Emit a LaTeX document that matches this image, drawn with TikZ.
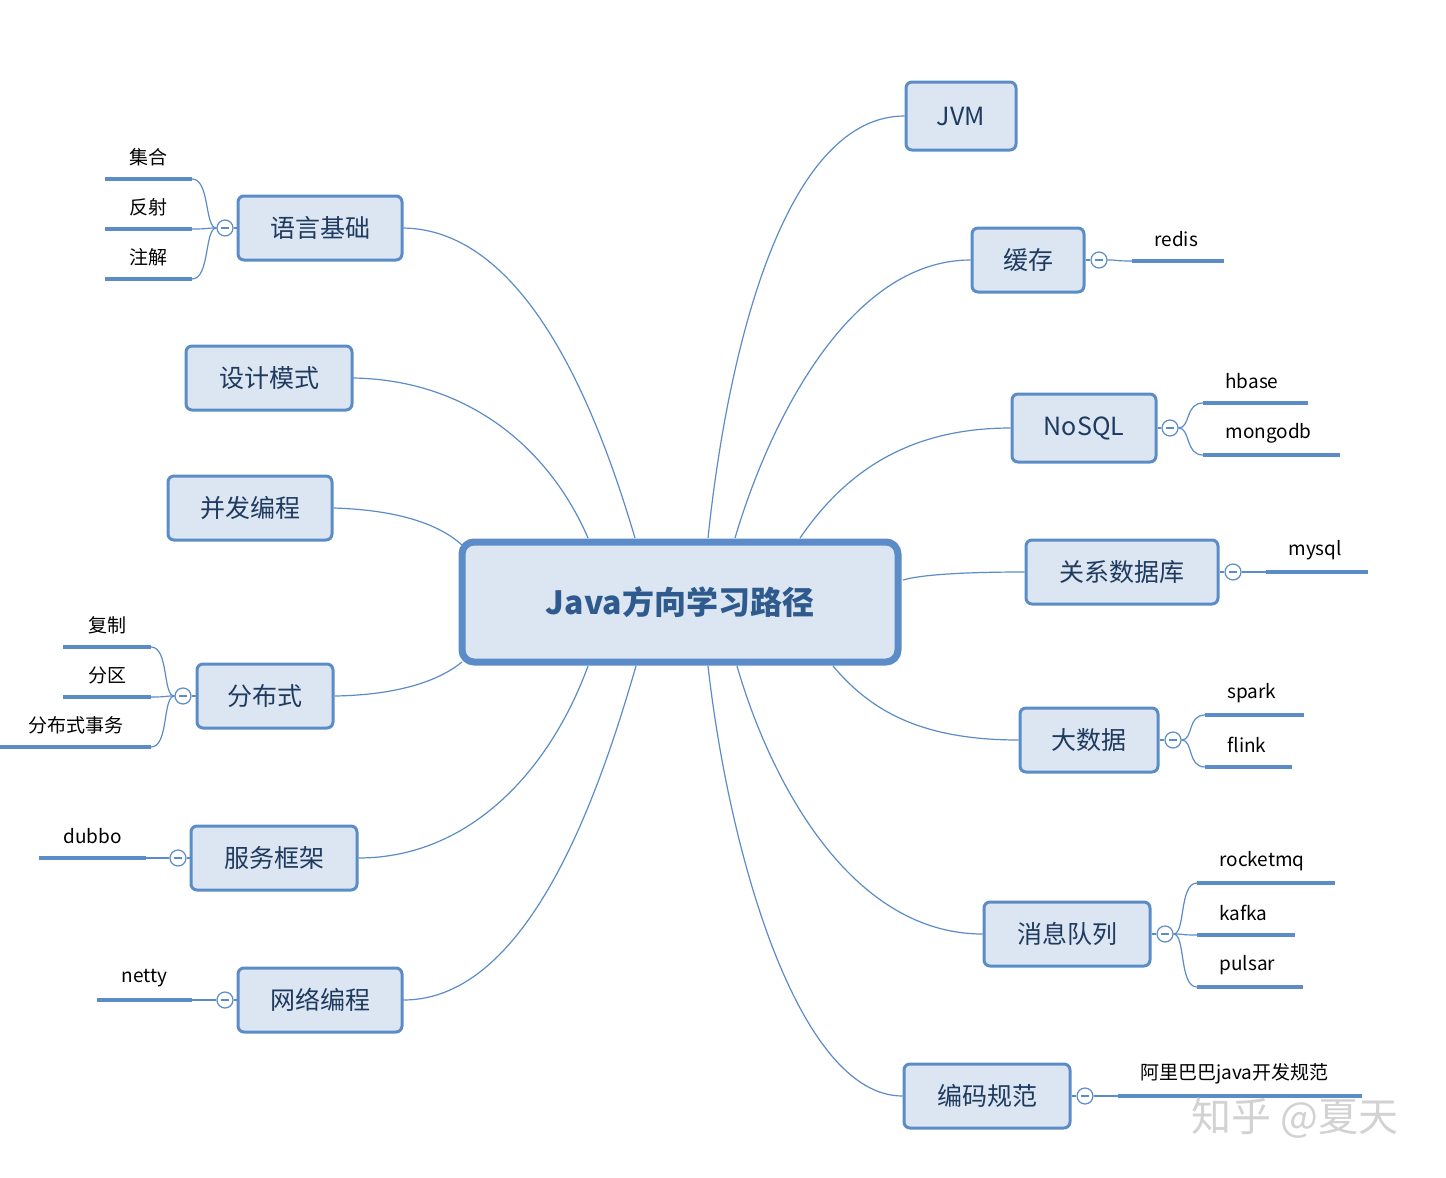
\documentclass[tikz,border=0pt]{standalone}
\usepackage{fontspec}
\setmainfont{Noto Sans CJK SC}
\begin{document}
\begin{tikzpicture}[x=0.5pt,y=-0.5pt,
  topic/.style={draw=c1,fill=c2,line width=1.5pt,rounded corners=3pt,text=c3,font=\fontsize{12.5}{14}\selectfont,inner sep=0pt},
  conn/.style={draw=c1,line width=0.6pt},
  uline/.style={draw=c1,line width=2pt},
  sub/.style={font=\fontsize{9.5}{11}\selectfont,text=black,inner sep=0pt},
  col/.style={circle,draw=c1,fill=white,line width=0.6pt,minimum size=8pt,inner sep=0pt,path picture={\draw[c1,line width=0.6pt] ([xshift=-2pt]path picture bounding box.center)--([xshift=2pt]path picture bounding box.center);}}]
\definecolor{c1}{HTML}{5B8CC8}
\definecolor{c2}{HTML}{DCE6F2}
\definecolor{c3}{HTML}{1F3A5F}
\definecolor{c4}{HTML}{2F5A8E}
\fill[white] (0,0) rectangle (1446,1178);
\useasboundingbox (0,0) rectangle (1446,1178);
% central
\node[topic,line width=3.5pt,rounded corners=6pt,minimum width=218pt,minimum height=60pt,text=c4,font=\fontsize{16}{18}\selectfont\bfseries] (C) at (680,602) {Java方向学习路径};
% left topics
\node[topic,minimum width=82pt,minimum height=32pt] (yy) at (320,228) {语言基础};
\node[topic,minimum width=83pt,minimum height=32pt] (sj) at (269,378) {设计模式};
\node[topic,minimum width=82pt,minimum height=32pt] (bf) at (250,508) {并发编程};
\node[topic,minimum width=68pt,minimum height=32pt] (fb) at (265,696) {分布式};
\node[topic,minimum width=83pt,minimum height=32pt] (fw) at (274,858) {服务框架};
\node[topic,minimum width=82pt,minimum height=32pt] (wl) at (320,1000) {网络编程};
% right topics
\node[topic,minimum width=55pt,minimum height=34pt] (jvm) at (961,116) {JVM};
\node[topic,minimum width=56pt,minimum height=32pt] (hc) at (1028,260) {缓存};
\node[topic,minimum width=72pt,minimum height=34pt] (ns) at (1084,428) {NoSQL};
\node[topic,minimum width=96pt,minimum height=32pt] (gx) at (1122,572) {关系数据库};
\node[topic,minimum width=69pt,minimum height=32pt] (ds) at (1089,740) {大数据};
\node[topic,minimum width=83pt,minimum height=32pt] (xx) at (1067,934) {消息队列};
\node[topic,minimum width=83pt,minimum height=32pt] (bm) at (987,1096) {编码规范};
% main connectors
\coordinate (e1) at (635,538); \coordinate (e2) at (588,538); \coordinate (e3) at (462,545);
\coordinate (e4) at (462,662); \coordinate (e5) at (588,666); \coordinate (e6) at (636,666);
\coordinate (f1) at (708,538); \coordinate (f2) at (735,538); \coordinate (f3) at (800,538);
\coordinate (f4) at (903,580); \coordinate (f5) at (833,666); \coordinate (f6) at (737,666); \coordinate (f7) at (708,666);
\draw[conn] (yy.east) .. controls (530,230) and (600,420) .. (e1);
\draw[conn] (sj.east) .. controls (470,380) and (550,450) .. (e2);
\draw[conn] (bf.east) .. controls (400,510) and (440,525) .. (e3);
\draw[conn] (fb.east) .. controls (400,695) and (440,680) .. (e4);
\draw[conn] (fw.east) .. controls (470,858) and (550,770) .. (e5);
\draw[conn] (wl.east) .. controls (530,1000) and (600,790) .. (e6);
\draw[conn] (jvm.west) .. controls (790,116) and (730,330) .. (f1);
\draw[conn] (hc.west) .. controls (850,260) and (770,420) .. (f2);
\draw[conn] (ns.west) .. controls (900,428) and (840,480) .. (f3);
\draw[conn] (gx.west) .. controls (960,572) and (920,575) .. (f4);
\draw[conn] (ds.west) .. controls (920,740) and (870,710) .. (f5);
\draw[conn] (xx.west) .. controls (850,934) and (770,780) .. (f6);
\draw[conn] (bm.west) .. controls (800,1096) and (730,860) .. (f7);
% collapse circles
\node[col] (cyy) at (225,228) {}; \draw[conn] (yy.west)--(cyy.east);
\node[col] (cfb) at (183,696) {}; \draw[conn] (fb.west)--(cfb.east);
\node[col] (cfw) at (178,858) {}; \draw[conn] (fw.west)--(cfw.east);
\node[col] (cwl) at (225,1000) {}; \draw[conn] (wl.west)--(cwl.east);
\node[col] (chc) at (1099,260) {}; \draw[conn] (hc.east)--(chc.west);
\node[col] (cns) at (1170,428) {}; \draw[conn] (ns.east)--(cns.west);
\node[col] (cgx) at (1233,572) {}; \draw[conn] (gx.east)--(cgx.west);
\node[col] (cds) at (1173,740) {}; \draw[conn] (ds.east)--(cds.west);
\node[col] (cxx) at (1165,934) {}; \draw[conn] (xx.east)--(cxx.west);
\node[col] (cbm) at (1085,1096) {}; \draw[conn] (bm.east)--(cbm.west);
% left sub items
\foreach \n/\a/\b/\y/\t/\c in {l1/105/192/179/集合/cyy, l2/105/192/229/反射/cyy, l3/105/192/279/注解/cyy,
  l4/63/151/647/复制/cfb, l5/63/151/697/分区/cfb, l6/0/151/747/分布式事务/cfb,
  l7/39/146/858/dubbo/cfw, l8/97/192/1000/netty/cwl}{
  \coordinate (\n a) at (\a,\y); \coordinate (\n b) at (\b,\y);
  \draw[uline] (\n a)--(\n b);
  \node[sub] (\n t) at ({(\a+\b)/2},\y-22) {\t};
  \draw[conn] (\c.west) .. controls +(-12,0) and +(18,0) .. (\n b);
}
% right sub items
\foreach \n/\a/\b/\y/\t/\c in {r1/1132/1224/261/redis/chc, r2/1203/1308/403/hbase/cns, r3/1203/1340/455/mongodb/cns,
  r4/1266/1368/572/mysql/cgx, r5/1205/1304/715/spark/cds, r6/1205/1292/767/flink/cds,
  r7/1197/1335/883/rocketmq/cxx, r8/1197/1295/935/kafka/cxx, r9/1197/1303/987/pulsar/cxx,
  r10/1118/1362/1096/阿里巴巴java开发规范/cbm}{
  \coordinate (\n a) at (\a,\y); \coordinate (\n b) at (\b,\y);
  \draw[uline] (\n a)--(\n b);
  \node[sub,anchor=west] (\n t) at (\a+22,\y-22) {\t};
  \draw[conn] (\c.east) .. controls +(12,0) and +(-18,0) .. (\n a);
}
\node[text=gray!35,font=\fontsize{20}{22}\selectfont] (wm) at (1295,1118) {知乎 @夏天};
\end{tikzpicture}
\end{document}
